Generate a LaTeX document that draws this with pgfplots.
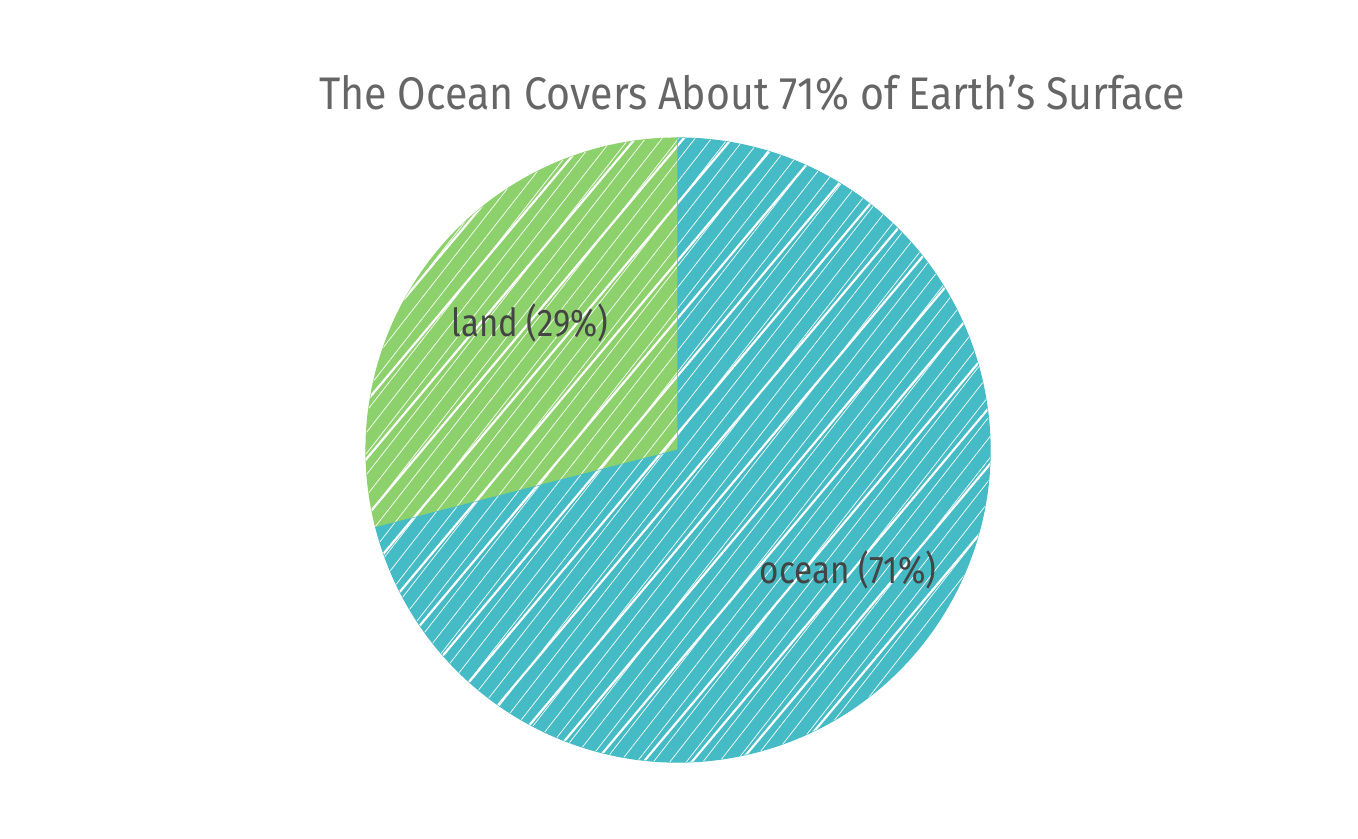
\documentclass[border=0pt]{standalone}
\usepackage{pgfplots}
\pgfplotsset{compat=1.18}
\usepackage{pgfplotstable}
\usepackage{graphicx}
\usepackage{fontspec}
\setmainfont{Fira Sans}
\usetikzlibrary{patterns.meta}

\definecolor{landgreen}{HTML}{8DD16C}
\definecolor{oceanteal}{HTML}{45BBC5}
\definecolor{titlegray}{HTML}{666666}
\definecolor{labelgray}{HTML}{444444}

% share of the surface in percent
\pgfplotstableread{
name  value
land  29
ocean 71
}\piedata

\pgfplotstablegetelem{0}{value}\of\piedata \let\landval\pgfplotsretval
\pgfplotstablegetelem{1}{value}\of\piedata \let\oceanval\pgfplotsretval
\pgfmathsetmacro\landend{90+3.6*\landval}
\pgfmathsetmacro\oceanend{\landend+3.6*\oceanval}

\tikzset{
  hatch/.style={
    fill=#1, draw=#1, line width=0.12mm,
    postaction={pattern={Lines[angle=52,distance=1.3mm,line width=0.07mm]},pattern color=white},
    postaction={pattern={Lines[angle=50,distance=3.7mm,line width=0.22mm]},pattern color=white},
  }
}

\begin{document}
\begin{tikzpicture}
\begin{axis}[
    width=135.8mm, height=83.8mm,
    scale only axis,
    xmin=0, xmax=1358, ymin=0, ymax=838,
    hide axis,
    clip=false,
  ]
  \path (axis cs:0,0) rectangle (axis cs:1358,838);
  % slices, counter-clockwise from the top
  \path[hatch=landgreen] (axis cs:678,388) -- ++(90:31.2mm)
     arc[start angle=90, end angle=\landend, radius=31.2mm] -- cycle;
  \path[hatch=oceanteal] (axis cs:678,388) -- ++(\landend:31.2mm)
     arc[start angle=\landend, end angle=\oceanend, radius=31.2mm] -- cycle;

  \node[text=labelgray, font=\fontsize{11}{13}\selectfont] at (axis cs:530,515)
     {\scalebox{0.85}[1]{land (\landval\%)}};
  \node[text=labelgray, font=\fontsize{11}{13}\selectfont] at (axis cs:848,268)
     {\scalebox{0.86}[1]{ocean (\oceanval\%)}};
  \node[text=titlegray, font=\fontsize{13}{15}\selectfont] at (axis cs:752,745)
     {\scalebox{0.9}[1]{The Ocean Covers About 71\% of Earth’s Surface}};
\end{axis}
\end{tikzpicture}
\end{document}
